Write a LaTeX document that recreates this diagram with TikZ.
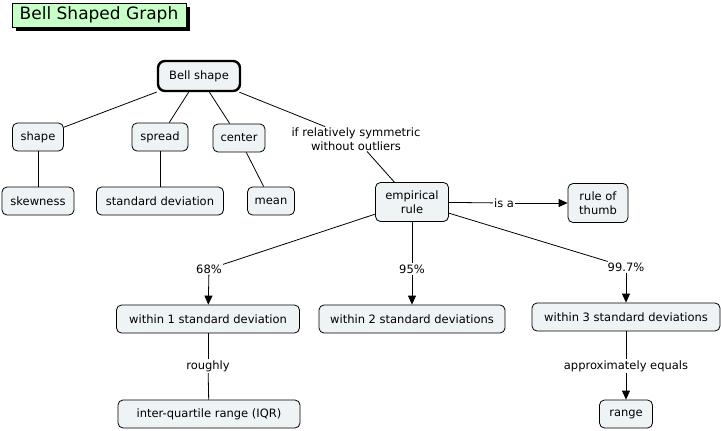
\documentclass[tikz,border=0pt]{standalone}
\usepackage{fontspec}
\setmainfont{DejaVu Sans}
\usetikzlibrary{arrows.meta}
\definecolor{nodefill}{HTML}{EEF3F6}
\definecolor{titlefill}{HTML}{C8FFC8}
\begin{document}
\begin{tikzpicture}[x=1pt,y=-1pt,
  box/.style={draw=black,line width=0.8pt,fill=nodefill,rounded corners=5pt,font=\fontsize{11.5}{13.5}\selectfont,inner sep=0pt,minimum height=28pt,align=center},
  lbl/.style={font=\fontsize{11.5}{13.5}\selectfont,align=center,fill=white,inner sep=1pt},
  ln/.style={draw=black,line width=0.8pt},
  arr/.style={ln,-{Triangle[length=9pt,width=8pt]}}]
\useasboundingbox[fill=white] (0,0) rectangle (721,431);
\fill[black] (16,7) rectangle (190,31);
\node[draw=black,fill=titlefill,minimum width=174pt,minimum height=24pt,inner sep=0pt,font=\fontsize{17}{19}\selectfont] (title) at (99,15) {Bell Shaped Graph};
\node[box,line width=2.4pt,minimum width=82pt,minimum height=30pt,rounded corners=7pt] (bell) at (199,76) {Bell shape};
\node[box,minimum width=51pt] (shape) at (38,137) {shape};
\node[box,minimum width=56pt] (spread) at (160,137) {spread};
\node[box,minimum width=52pt] (center) at (239,138) {center};
\node[lbl] (sym) at (356,139) {if relatively symmetric\\without outliers};
\node[box,minimum width=72pt] (skew) at (38,201) {skewness};
\node[box,minimum width=127pt] (sd) at (160,201) {standard deviation};
\node[box,minimum width=47pt] (mean) at (271,201) {mean};
\node[box,minimum width=73pt,minimum height=39pt] (emp) at (412,202) {empirical\\rule};
\node[lbl] (isa) at (504,203) {is a};
\node[box,minimum width=60pt,minimum height=39pt] (thumb) at (598,203) {rule of\\thumb};
\node[lbl] (p68) at (209,269) {68\%};
\node[lbl] (p95) at (412,269) {95\%};
\node[lbl] (p997) at (626,267) {99.7\%};
\node[box,minimum width=183pt] (w1) at (208,319) {within 1 standard deviation};
\node[box,minimum width=186pt] (w2) at (412,319) {within 2 standard deviations};
\node[box,minimum width=188pt] (w3) at (626,317) {within 3 standard deviations};
\node[lbl] (rough) at (208,366) {roughly};
\node[lbl] (approx) at (626,366) {approximately equals};
\node[box,minimum width=182pt] (iqr) at (209,414) {inter-quartile range (IQR)};
\node[box,minimum width=53pt] (range) at (626,414) {range};
\draw[ln] (bell) -- (shape);
\draw[ln] (bell) -- (spread);
\draw[ln] (bell) -- (center);
\draw[ln] (bell) -- (sym);
\draw[ln] (shape) -- (skew);
\draw[ln] (spread) -- (sd);
\draw[ln] (center) -- (mean);
\draw[ln] (sym) -- (emp);
\draw[ln] (emp) -- (isa);
\draw[arr] (isa) -- (thumb);
\draw[ln] (emp) -- (p68);
\draw[ln] (emp) -- (p95);
\draw[ln] (emp) -- (p997);
\draw[arr] (p68) -- (w1);
\draw[arr] (p95) -- (w2);
\draw[arr] (p997) -- (w3);
\draw[ln] (w1) -- (rough);
\draw[ln] (rough) -- (iqr);
\draw[ln] (w3) -- (approx);
\draw[arr] (approx) -- (range);
\end{tikzpicture}
\end{document}
